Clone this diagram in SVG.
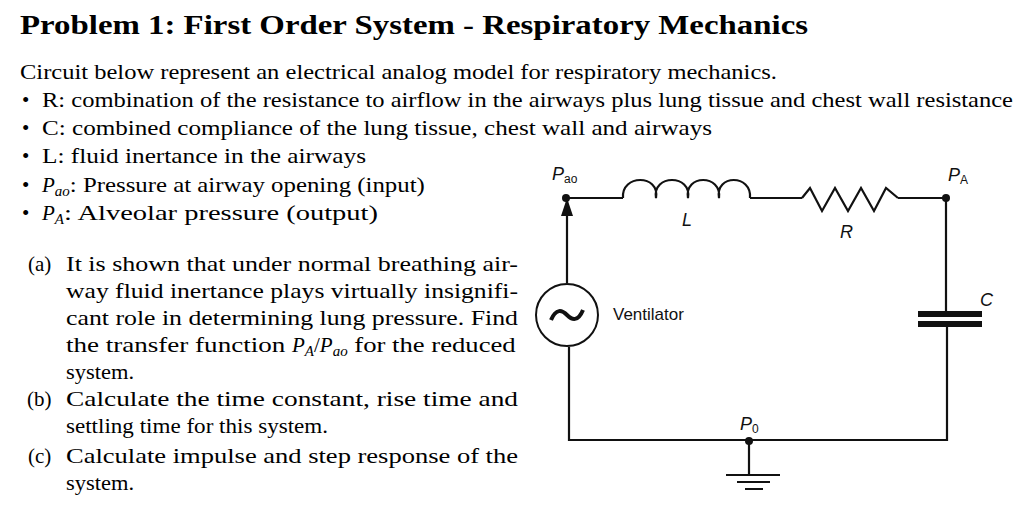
<svg xmlns="http://www.w3.org/2000/svg" width="1024" height="517" viewBox="0 0 1024 517">
<style>
.t{font-family:"Liberation Serif",serif;font-size:21px;fill:#000}
.h{font-family:"Liberation Serif",serif;font-size:28px;font-weight:bold;fill:#000}
.i{font-style:italic}
.s{font-size:15px}
.w{fill:none;stroke:#111;stroke-width:2.2}
.lb{font-family:"Liberation Sans",Arial,sans-serif;font-size:18px;font-style:italic;fill:#111}
.lv{font-family:"Liberation Sans",Arial,sans-serif;font-size:17px;fill:#111}
.d{fill:#111}
</style>
<rect width="1024" height="517" fill="#fff"/>
<g id="text">
<text class="h" x="20" y="34" textLength="788" lengthAdjust="spacingAndGlyphs">Problem 1: First Order System - Respiratory Mechanics</text>
<text class="t" x="20" y="79" textLength="757" lengthAdjust="spacingAndGlyphs">Circuit below represent an electrical analog model for respiratory mechanics.</text>
<text class="t" x="22" y="107">•</text><text class="t" x="42" y="107" textLength="971" lengthAdjust="spacingAndGlyphs">R: combination of the resistance to airflow in the airways plus lung tissue and chest wall resistance</text>
<text class="t" x="22" y="135">•</text><text class="t" x="42" y="135" textLength="670" lengthAdjust="spacingAndGlyphs">C: combined compliance of the lung tissue, chest wall and airways</text>
<text class="t" x="22" y="163">•</text><text class="t" x="42" y="163" textLength="324" lengthAdjust="spacingAndGlyphs">L: fluid inertance in the airways</text>
<text class="t" x="22" y="192">•</text><text class="t" x="42" y="192"><tspan class="i">P</tspan><tspan class="i s" dy="4">ao</tspan><tspan dy="-4" textLength="355" lengthAdjust="spacingAndGlyphs">: Pressure at airway opening (input)</tspan></text>
<text class="t" x="22" y="220">•</text><text class="t" x="42" y="220"><tspan class="i">P</tspan><tspan class="i s" dy="4">A</tspan><tspan dy="-4" textLength="314" lengthAdjust="spacingAndGlyphs">: Alveolar pressure (output)</tspan></text>
<text class="t" x="28" y="271">(a)</text>
<text class="t" x="66" y="271" textLength="452" lengthAdjust="spacingAndGlyphs">It is shown that under normal breathing air-</text>
<text class="t" x="66" y="298" textLength="452" lengthAdjust="spacingAndGlyphs">way fluid inertance plays virtually insignifi-</text>
<text class="t" x="66" y="325" textLength="452" lengthAdjust="spacingAndGlyphs">cant role in determining lung pressure. Find</text>
<text class="t" x="66" y="352"><tspan textLength="226" lengthAdjust="spacingAndGlyphs">the transfer function </tspan><tspan class="i">P</tspan><tspan class="i s" dy="4">A</tspan><tspan dy="-4">/</tspan><tspan class="i">P</tspan><tspan class="i s" dy="4">ao</tspan><tspan dy="-4" textLength="168" lengthAdjust="spacingAndGlyphs"> for the reduced</tspan></text>
<text class="t" x="66" y="379" textLength="68" lengthAdjust="spacingAndGlyphs">system.</text>
<text class="t" x="27" y="406">(b)</text>
<text class="t" x="66" y="406" textLength="452" lengthAdjust="spacingAndGlyphs">Calculate the time constant, rise time and</text>
<text class="t" x="66" y="433" textLength="262" lengthAdjust="spacingAndGlyphs">settling time for this system.</text>
<text class="t" x="28" y="463">(c)</text>
<text class="t" x="66" y="463" textLength="452" lengthAdjust="spacingAndGlyphs">Calculate impulse and step response of the</text>
<text class="t" x="66" y="490" textLength="68" lengthAdjust="spacingAndGlyphs">system.</text>
</g>
<g id="connectors">
<path class="w" d="M567 283 V198 H623 M750 198 H802 M898 198 H946 V314 M947 324 V440 H569 V347 M749 441 V475"/>
<path class="d" d="M567 198 L561 216 L573 216 Z"/>
</g>
<g id="inductor"><path class="w" d="M623 198 C621 174 660 174 656 198 C652 174 692 174 688 198 C684 174 722 174 719 198 C715 174 752 174 750 198"/><text class="lb" x="682" y="226">L</text></g>
<g id="resistor"><path class="w" d="M802 198 L810 188 L822 211 L835 188 L848 211 L861 188 L874 211 L886 188 L898 198"/><text class="lb" x="840" y="238">R</text></g>
<g id="capacitor"><rect x="918" y="311" width="64" height="6" class="d"/><rect x="918" y="321" width="64" height="6" class="d"/><text class="lb" x="980" y="306">C</text></g>
<g id="source"><circle cx="567" cy="315" r="31" fill="none" stroke="#111" stroke-width="2"/><path d="M551 320 C556 308 562 310 567 315 C572 320 578 322 583 310" fill="none" stroke="#111" stroke-width="4"/><text class="lv" x="613" y="320">Ventilator</text></g>
<g id="Pao"><circle cx="566" cy="198" r="4" class="d"/><text class="lb" x="552" y="180">P<tspan font-size="12" dy="3" font-style="normal">ao</tspan></text></g>
<g id="PA"><circle cx="946" cy="198" r="4" class="d"/><text class="lb" x="948" y="181">P<tspan font-size="12" dy="3" font-style="normal">A</tspan></text></g>
<g id="P0"><circle cx="749" cy="441" r="4" class="d"/><text class="lb" x="740" y="430">P<tspan font-size="12" dy="3" font-style="normal">0</tspan></text></g>
<g id="ground"><path class="w" d="M726 475 H780 M737 482 H770 M745 489 H763"/></g>
</svg>
